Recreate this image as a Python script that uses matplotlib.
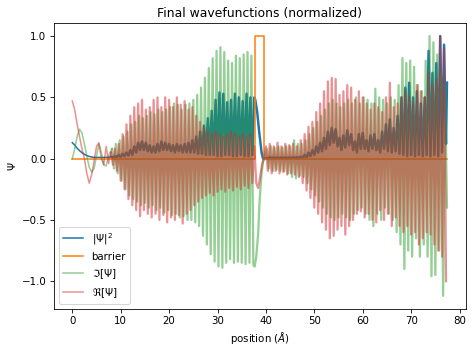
import numpy as np
import matplotlib
matplotlib.use("Agg")
import matplotlib.pyplot as plt

# ---------------- data ----------------
# smooth head region (0 - 7.5 A)
x_head = [0.0, 0.5, 1.0, 1.5, 2.0, 2.5, 3.0, 3.5, 4.0, 4.5, 5.0, 5.5, 6.0, 6.5, 7.0, 7.5]
psi2_head = [0.13, 0.11, 0.085, 0.065, 0.048, 0.035, 0.025, 0.018, 0.013, 0.011,
             0.01, 0.01, 0.01, 0.01, 0.01, 0.012]
re_head = [0.47, 0.40, 0.28, 0.18, 0.08, 0.0, -0.12, -0.20, -0.13, -0.02,
           0.10, 0.13, 0.0, -0.05, 0.10, -0.04]
im_head = [0.0, 0.08, 0.18, 0.24, 0.21, 0.12, 0.02, -0.07, -0.11, -0.08,
           0.02, 0.12, 0.05, -0.05, -0.06, 0.03]

# oscillating region left of the barrier (spikes every 0.8 A from 8.0 A)
spike_pitch = 0.8
re_top_a = [0.05, 0.08, 0.12, 0.20, 0.28, 0.35, 0.42, 0.45, 0.48, 0.40,
            0.42, 0.48, 0.50, 0.42, 0.50, 0.48, 0.42, 0.50, 0.44, 0.47,
            0.40, 0.42, 0.35, 0.30, 0.25, 0.22, 0.20, 0.22, 0.20, 0.18,
            0.20, 0.22, 0.20, 0.18, 0.20, 0.18, 0.20]
re_bot_a = [-0.05, -0.10, -0.18, -0.25, -0.33, -0.38, -0.42, -0.47, -0.42, -0.45,
            -0.48, -0.45, -0.50, -0.46, -0.52, -0.48, -0.50, -0.46, -0.53, -0.45,
            -0.42, -0.38, -0.35, -0.32, -0.30, -0.28, -0.30, -0.27, -0.25, -0.27,
            -0.24, -0.26, -0.23, -0.25, -0.22, -0.24, -0.20]
im_top_a = [0.08, 0.12, 0.15, 0.18, 0.22, 0.28, 0.30, 0.35, 0.33, 0.35,
            0.38, 0.36, 0.40, 0.38, 0.40, 0.42, 0.45, 0.44, 0.40, 0.44,
            0.45, 0.48, 0.52, 0.58, 0.66, 0.74, 0.82, 0.88, 0.91, 0.87,
            0.80, 0.78, 0.84, 0.82, 0.85, 0.87, 0.84]
im_bot_a = [-0.08, -0.12, -0.18, -0.25, -0.30, -0.33, -0.35, -0.38, -0.36, -0.40,
            -0.38, -0.42, -0.40, -0.44, -0.42, -0.46, -0.45, -0.48, -0.47, -0.50,
            -0.50, -0.52, -0.55, -0.63, -0.70, -0.78, -0.84, -0.88, -0.89, -0.85,
            -0.82, -0.85, -0.84, -0.85, -0.86, -0.85, -0.87]
psi2_top_a = [0.015, 0.02, 0.03, 0.04, 0.05, 0.07, 0.10, 0.13, 0.14, 0.13,
              0.11, 0.10, 0.12, 0.14, 0.13, 0.12, 0.11, 0.12, 0.11, 0.12,
              0.13, 0.15, 0.18, 0.22, 0.27, 0.33, 0.39, 0.48, 0.54, 0.53,
              0.46, 0.48, 0.53, 0.50, 0.47, 0.53, 0.50]
psi2_bot_a = [0.01, 0.012, 0.015, 0.02, 0.025, 0.03, 0.05, 0.07, 0.07, 0.06,
              0.05, 0.05, 0.06, 0.07, 0.07, 0.06, 0.05, 0.06, 0.05, 0.05,
              0.05, 0.05, 0.04, 0.04, 0.03, 0.03, 0.03, 0.02, 0.02, 0.03,
              0.03, 0.02, 0.02, 0.03, 0.02, 0.02, 0.03]

# inside the barrier
x_gap_re = [37.6, 38.0, 38.4, 38.8, 39.2, 39.6]
re_gap = [0.10, -0.20, -0.24, -0.15, -0.05, 0.0]
x_gap_im = [37.7, 38.0, 38.4, 38.7, 39.1, 39.4, 39.8]
im_gap = [-0.88, -0.80, -0.61, -0.34, -0.12, -0.02, 0.0]
x_gap_psi2 = [37.6, 37.8, 38.2, 38.6, 39.1, 39.4, 39.7]
psi2_gap = [0.50, 0.48, 0.38, 0.22, 0.05, 0.0, 0.0]

# oscillating region right of the barrier (spikes every 0.8 A from 40.0 A)
re_top_c = [0.10, 0.12, 0.10, 0.13, 0.10, 0.12, 0.11, 0.12, 0.10, 0.15,
            0.20, 0.26, 0.30, 0.38, 0.45, 0.55, 0.63, 0.66, 0.65, 0.52,
            0.55, 0.60, 0.58, 0.48, 0.55, 0.50, 0.45, 0.40, 0.45, 0.42,
            0.38, 0.50, 0.62, 0.42, 0.45, 0.50, 0.55, 0.50, 0.45, 0.60,
            0.55, 0.50, 0.70, 0.60, 0.65, 1.00, 0.90]
re_bot_c = [-0.10, -0.12, -0.10, -0.12, -0.11, -0.13, -0.12, -0.13, -0.15, -0.20,
            -0.26, -0.32, -0.40, -0.45, -0.52, -0.58, -0.65, -0.63, -0.58, -0.55,
            -0.62, -0.55, -0.50, -0.45, -0.43, -0.48, -0.45, -0.50, -0.52, -0.42,
            -0.50, -0.45, -0.55, -0.48, -0.55, -0.60, -0.55, -0.62, -0.60, -0.70,
            -0.65, -0.60, -0.62, -0.70, -0.75, -0.80, -1.00]
im_top_c = [0.08, 0.10, 0.09, 0.10, 0.09, 0.10, 0.10, 0.15, 0.12, 0.12,
            0.15, 0.20, 0.25, 0.30, 0.35, 0.40, 0.45, 0.48, 0.45, 0.42,
            0.45, 0.48, 0.45, 0.50, 0.45, 0.50, 0.48, 0.45, 0.57, 0.50,
            0.48, 0.45, 0.50, 0.48, 0.60, 0.82, 0.78, 0.80, 0.75, 0.60,
            0.55, 0.80, 1.00, 0.95, 0.85, 0.70, 0.60]
im_bot_c = [-0.08, -0.10, -0.09, -0.10, -0.10, -0.12, -0.15, -0.16, -0.14, -0.15,
            -0.20, -0.25, -0.30, -0.35, -0.40, -0.45, -0.48, -0.50, -0.48, -0.45,
            -0.48, -0.50, -0.45, -0.42, -0.40, -0.45, -0.50, -0.55, -0.45, -0.50,
            -0.40, -0.45, -0.50, -0.60, -0.70, -0.90, -0.75, -0.80, -0.65, -0.80,
            -0.70, -0.80, -0.96, -0.95, -0.75, -1.12, -0.40]
psi2_top_c = [0.005, 0.01, 0.01, 0.01, 0.01, 0.01, 0.01, 0.012, 0.012, 0.015,
              0.03, 0.05, 0.07, 0.10, 0.13, 0.17, 0.22, 0.25, 0.24, 0.17,
              0.19, 0.23, 0.20, 0.14, 0.20, 0.21, 0.15, 0.19, 0.20, 0.15,
              0.22, 0.28, 0.32, 0.25, 0.35, 0.50, 0.58, 0.62, 0.50, 0.55,
              0.45, 0.50, 0.88, 0.70, 0.78, 1.00, 0.93]
psi2_bot_c = [0.002, 0.003, 0.003, 0.003, 0.003, 0.003, 0.004, 0.005, 0.006, 0.008,
              0.01, 0.02, 0.03, 0.05, 0.06, 0.08, 0.11, 0.13, 0.10, 0.07,
              0.09, 0.11, 0.07, 0.05, 0.08, 0.08, 0.06, 0.08, 0.07, 0.05,
              0.08, 0.06, 0.05, 0.06, 0.04, 0.03, 0.02, 0.03, 0.02, 0.03,
              0.02, 0.03, 0.02, 0.03, 0.02, 0.05, 0.12]
x_tail = [77.4]
psi2_tail = [0.62]

# barrier
barrier_x = [0.0, 37.7, 37.7, 39.6, 39.6, 77.4]
barrier_y = [0.0, 0.0, 1.0, 1.0, 0.0, 0.0]

start_a = 8.0
start_c = 40.0


def zigzag(start, tops, bots, shift=0.0):
    x = start + shift + spike_pitch * np.arange(len(tops))
    xx = np.column_stack([x, x + spike_pitch / 2]).ravel()
    yy = np.column_stack([tops, bots]).ravel()
    return xx, yy


def series(tops_a, bots_a, gx, gy, tops_c, bots_c, head, shift=0.0, tail=None):
    xa, ya = zigzag(start_a, tops_a, bots_a, shift)
    xc, yc = zigzag(start_c, tops_c, bots_c, shift)
    xs = [np.array(x_head), xa, np.array(gx), xc]
    ys = [np.array(head), ya, np.array(gy), yc]
    if tail is not None:
        xs.append(np.array(tail[0]))
        ys.append(np.array(tail[1]))
    return np.concatenate(xs), np.concatenate(ys)


px, py = series(psi2_top_a, psi2_bot_a, x_gap_psi2, psi2_gap, psi2_top_c, psi2_bot_c,
                psi2_head, 0.0, (x_tail, psi2_tail))
ix, iy = series(im_top_a, im_bot_a, x_gap_im, im_gap, im_top_c, im_bot_c, im_head, 0.2)
rx, ry = series(re_top_a, re_bot_a, x_gap_re, re_gap, re_top_c, re_bot_c, re_head, 0.0)

nh = len(x_head)

# ---------------- figure ----------------
fig = plt.figure(figsize=(6.4, 4.74), dpi=74.0625)
ax = fig.add_subplot(111)
fig.subplots_adjust(left=0.113, right=0.9825, top=0.934, bottom=0.120)

ax.plot(px[:nh + 1], py[:nh + 1], color='C0', lw=1.5, label=r'$|\Psi|^2$')
ax.plot(px[nh:], py[nh:], color='C0', lw=2.4)
ax.plot(barrier_x, barrier_y, color='C1', lw=1.5, label='barrier')
ax.plot(ix[:nh + 1], iy[:nh + 1], color='C2', lw=1.5, alpha=0.5, label=r'$\Im[\Psi]$')
ax.plot(ix[nh:], iy[nh:], color='C2', lw=2.2, alpha=0.5)
ax.plot(rx[:nh + 1], ry[:nh + 1], color='C3', lw=1.5, alpha=0.5, label=r'$\Re[\Psi]$')
ax.plot(rx[nh:], ry[nh:], color='C3', lw=2.2, alpha=0.5)

ax.set_title('Final wavefunctions (normalized)')
ax.set_xlabel(r'position ($\AA$)')
ax.set_ylabel('Ψ')
ax.set_xticks([0, 10, 20, 30, 40, 50, 60, 70, 80])
ax.set_yticks([-1.0, -0.5, 0.0, 0.5, 1.0])
ax.legend(loc='lower left')

fig.savefig('out.png', dpi=74.0625)
